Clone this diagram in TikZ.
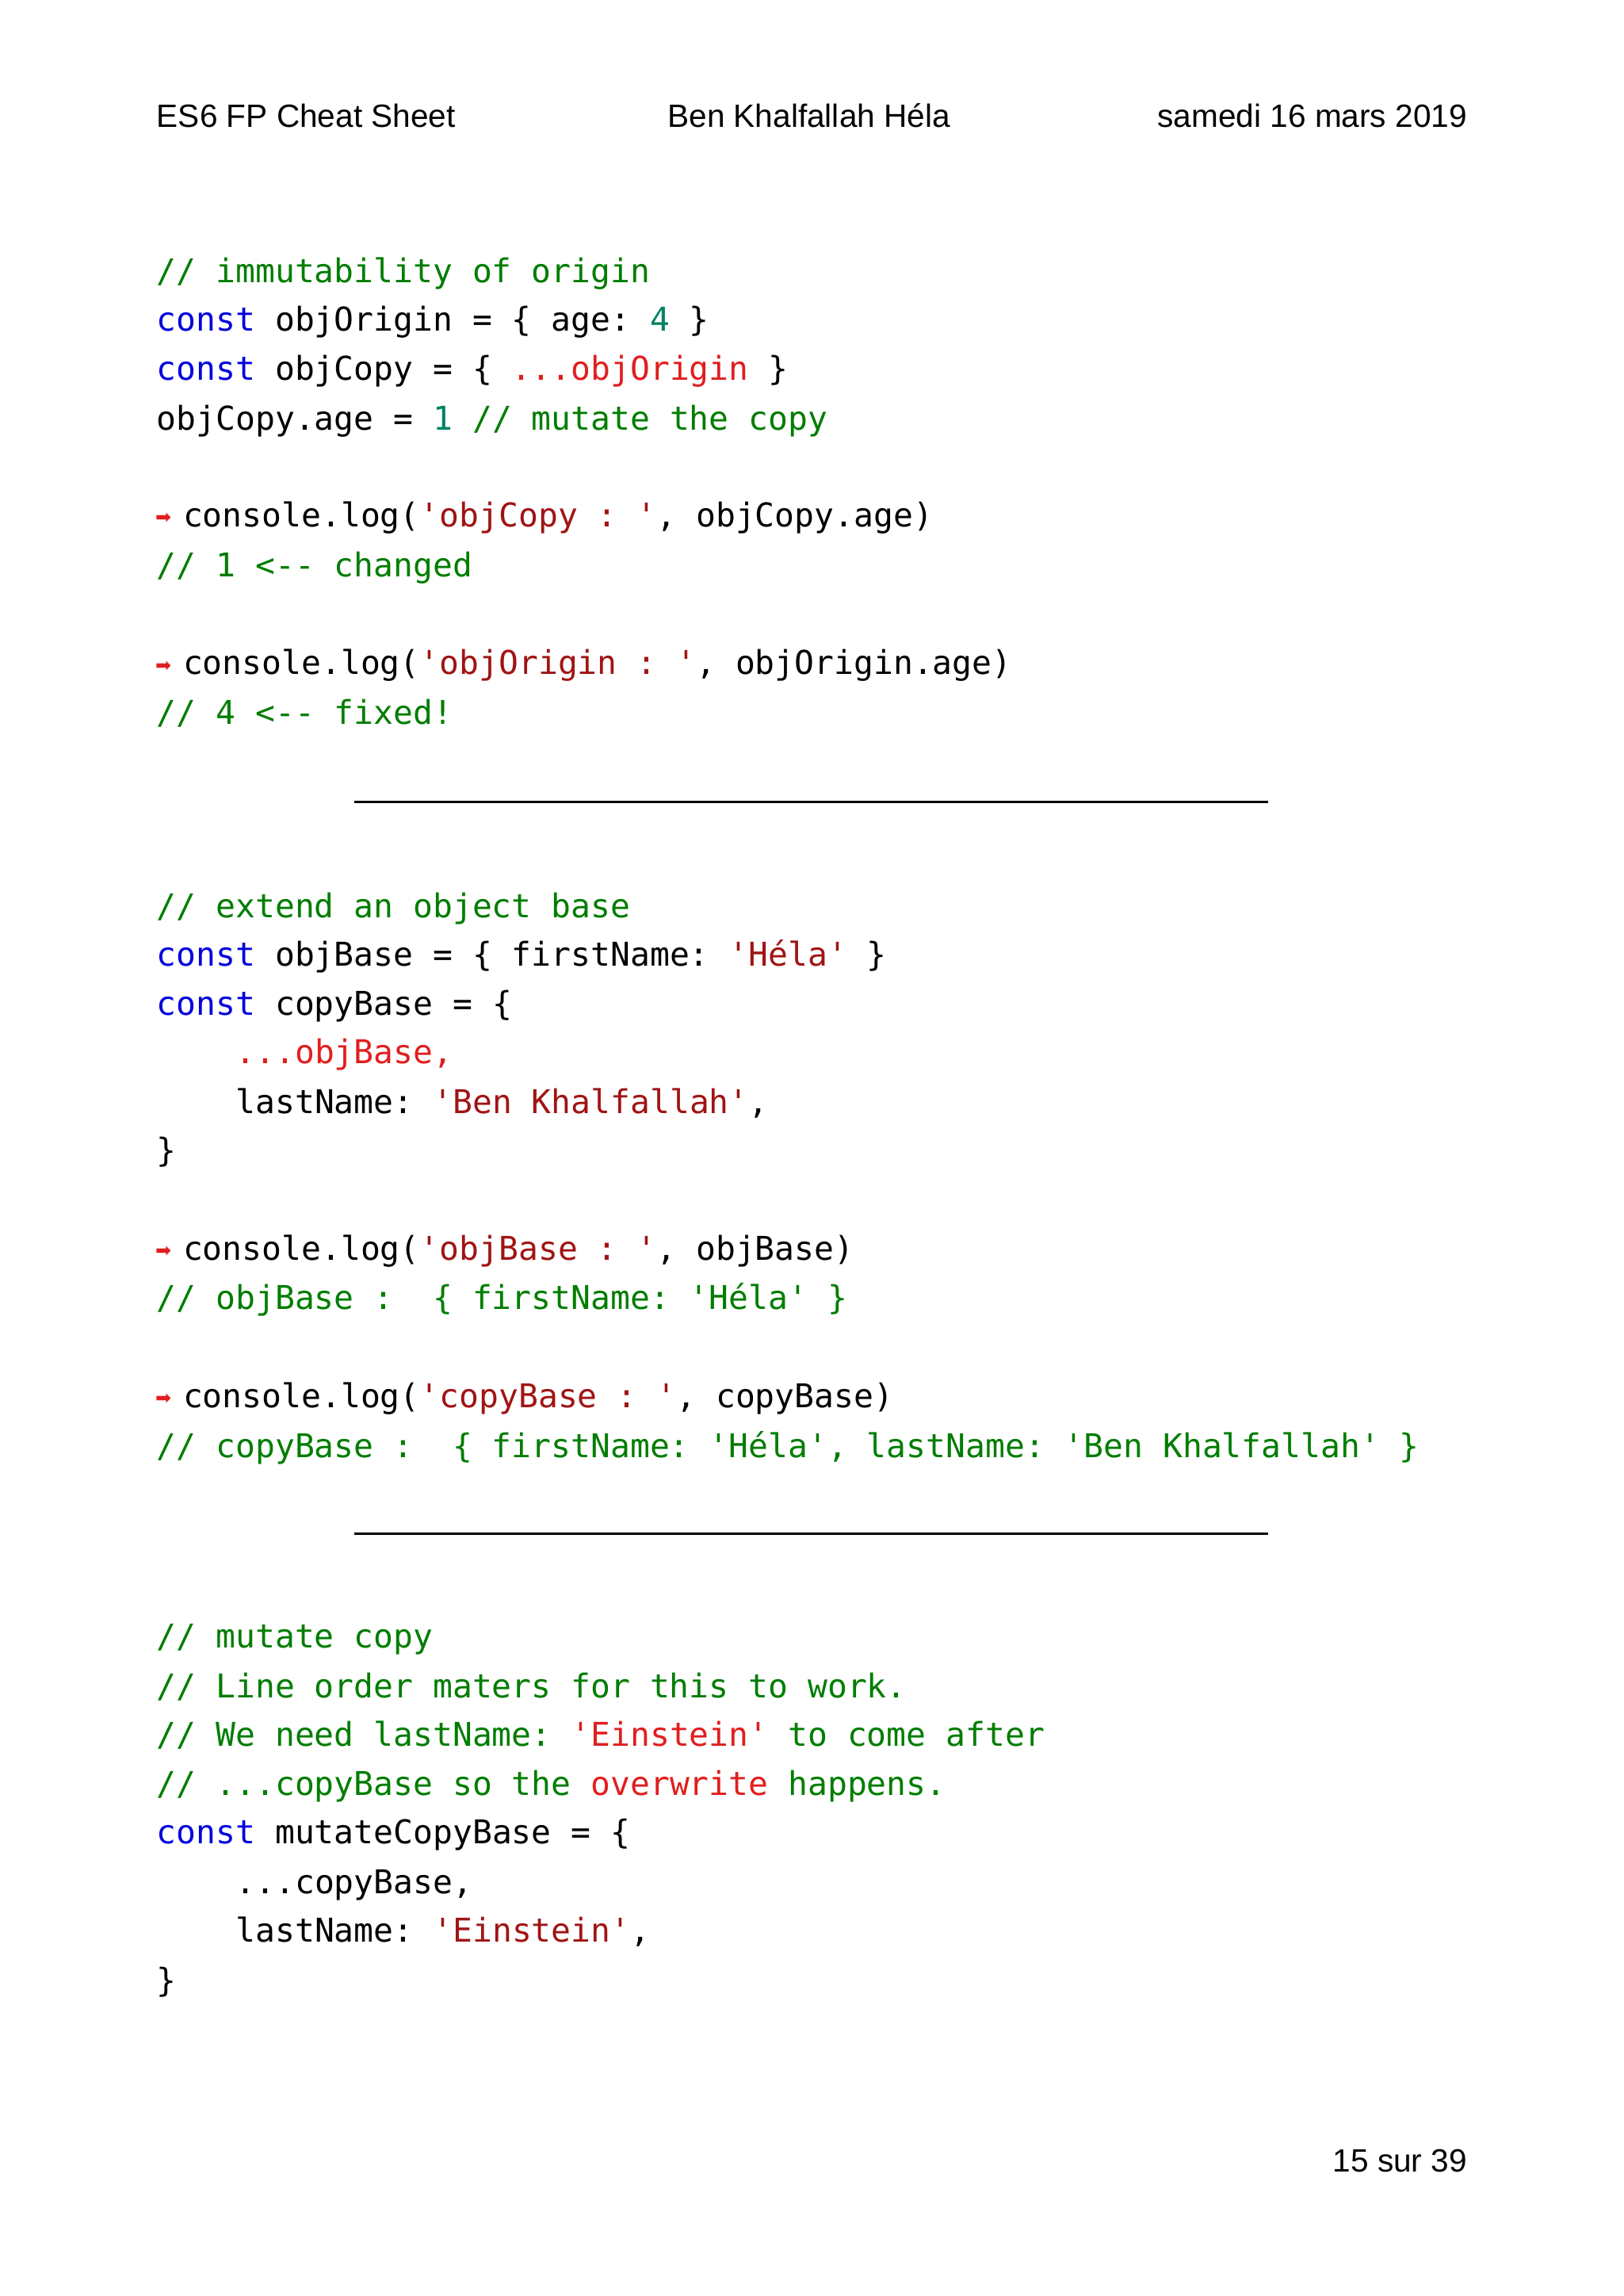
\documentclass[tikz,border=0pt]{standalone}
\usepackage{fontspec}
\setmainfont{Liberation Sans}
\newfontfamily\code{DejaVu Sans Mono}
\newfontfamily\sym{DejaVu Sans}
\definecolor{cm}{RGB}{0,125,0}
\definecolor{kw}{RGB}{0,0,220}
\definecolor{nm}{RGB}{0,130,100}
\definecolor{st}{RGB}{160,20,20}
\definecolor{sp}{RGB}{225,30,30}
\newcommand{\q}{{\char39}}
\newcommand{\Ccm}[1]{\textcolor{cm}{#1}}
\newcommand{\Ckw}[1]{\textcolor{kw}{#1}}
\newcommand{\Cnm}[1]{\textcolor{nm}{#1}}
\newcommand{\Cst}[1]{\textcolor{st}{#1}}
\newcommand{\Csp}[1]{\textcolor{sp}{#1}}
\frenchspacing
\begin{document}
\begin{tikzpicture}[x=1pt,y=-1pt,
  ln/.style={anchor=base west,inner sep=0pt,font=\code\fontsize{22.4}{26}\selectfont\frenchspacing},
  hd/.style={anchor=base,inner sep=0pt,font=\fontsize{22}{26}\selectfont},
  arw/.style={anchor=base west,inner sep=0pt,text=sp,font=\sym\fontsize{13}{14}\selectfont},
  rl/.style={line width=1.3pt}]
\useasboundingbox (0,0) rectangle (1110,1569);
\node[hd,anchor=base west] (h1) at (107,87) {ES6 FP Cheat Sheet};
\node[hd] (h2) at (553,87) {Ben Khalfallah Héla};
\node[hd,anchor=base east] (h3) at (1003,87) {samedi 16 mars 2019};
\node[hd,anchor=base east] (ft) at (1003,1484) {15 sur 39};
% block 1
\node[ln] (a1) at (107,193) {\Ccm{// immutability of origin}};
\node[ln] (a2) at (107,226) {\Ckw{const} objOrigin = \{ age: \Cnm{4} \}};
\node[ln] (a3) at (107,260) {\Ckw{const} objCopy = \{ \Csp{...objOrigin} \}};
\node[ln] (a4) at (107,294) {objCopy.age = \Cnm{1} \Ccm{// mutate the copy}};
\node[arw] (r1) at (106,358) {➡};
\node[ln] (a5) at (125,360) {console.log(\Cst{\q objCopy : \q}, objCopy.age)};
\node[ln] (a6) at (107,394) {\Ccm{// 1 <-{}- changed}};
\node[arw] (r2) at (106,459) {➡};
\node[ln] (a7) at (125,461) {console.log(\Cst{\q objOrigin : \q}, objOrigin.age)};
\node[ln] (a8) at (107,495) {\Ccm{// 4 <-{}- fixed!}};
\coordinate (l1a) at (242,548); \coordinate (l1b) at (867,548);
\draw[rl] (l1a) -- (l1b);
% block 2
\node[ln] (b1) at (107,627) {\Ccm{// extend an object base}};
\node[ln] (b2) at (107,660) {\Ckw{const} objBase = \{ firstName: \Cst{\q Héla\q} \}};
\node[ln] (b3) at (107,694) {\Ckw{const} copyBase = \{};
\node[ln] (b4) at (161,727) {\Csp{...objBase,}};
\node[ln] (b5) at (161,761) {lastName: \Cst{\q Ben Khalfallah\q},};
\node[ln] (b6) at (107,794) {\}};
\node[arw] (r3) at (106,859) {➡};
\node[ln] (b7) at (125,861) {console.log(\Cst{\q objBase : \q}, objBase)};
\node[ln] (b8) at (107,895) {\Ccm{// objBase :~~\{ firstName: \q Héla\q{} \}}};
\node[arw] (r4) at (106,960) {➡};
\node[ln] (b9) at (125,962) {console.log(\Cst{\q copyBase : \q}, copyBase)};
\node[ln] (b10) at (107,996) {\Ccm{// copyBase :~~\{ firstName: \q Héla\q, lastName: \q Ben Khalfallah\q{} \}}};
\coordinate (l2a) at (242,1048); \coordinate (l2b) at (867,1048);
\draw[rl] (l2a) -- (l2b);
% block 3
\node[ln] (c1) at (107,1126) {\Ccm{// mutate copy}};
\node[ln] (c2) at (107,1160) {\Ccm{// Line order maters for this to work.}};
\node[ln] (c3) at (107,1193) {\Ccm{// We need lastName: }\Csp{\q Einstein\q}\Ccm{~to come after}};
\node[ln] (c4) at (107,1227) {\Ccm{// ...copyBase so the }\Csp{overwrite}\Ccm{~happens.}};
\node[ln] (c5) at (107,1260) {\Ckw{const} mutateCopyBase = \{};
\node[ln] (c6) at (161,1294) {...copyBase,};
\node[ln] (c7) at (161,1327) {lastName: \Cst{\q Einstein\q},};
\node[ln] (c8) at (107,1361) {\}};
\end{tikzpicture}
\end{document}
